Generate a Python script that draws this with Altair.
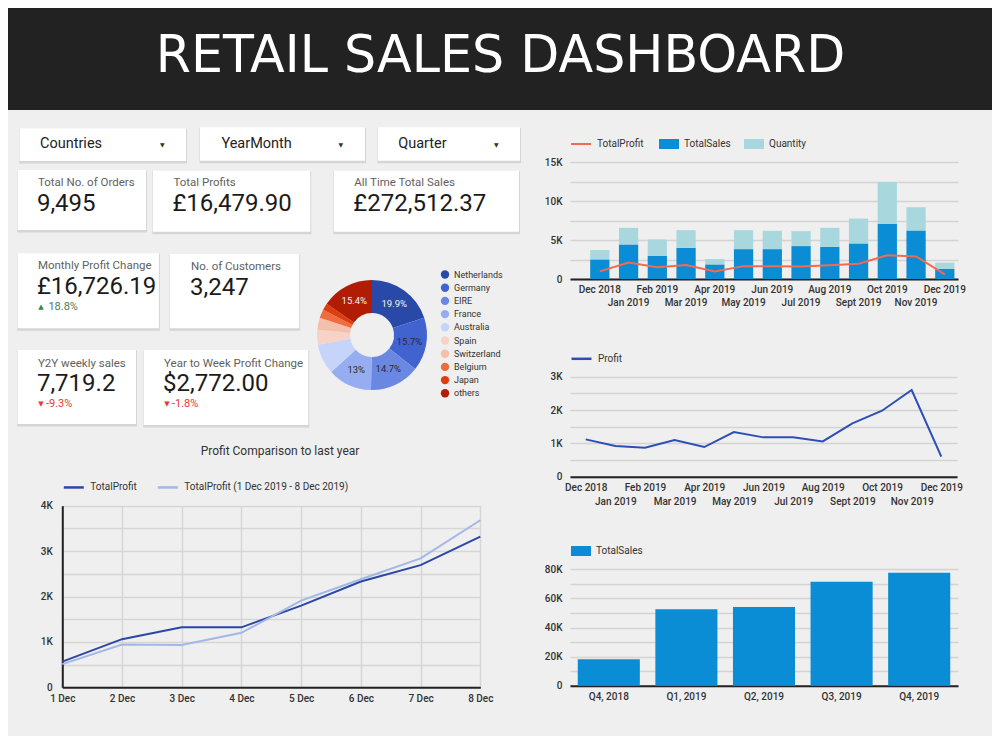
import json
import altair as alt
import pandas as pd

# ---------------- data ----------------
months = ["Dec 2018", "Jan 2019", "Feb 2019", "Mar 2019", "Apr 2019", "May 2019",
          "Jun 2019", "Jul 2019", "Aug 2019", "Sept 2019", "Oct 2019", "Nov 2019", "Dec 2019"]
monthly_sales = [2510, 4430, 2980, 4000, 1870, 3830, 3830, 4220, 4130, 4560, 7070, 6220, 1280]
monthly_quantity = [1200, 2130, 2090, 2260, 690, 2430, 2350, 1920, 2430, 3190, 5370, 2980, 810]
monthly_total_profit = [980, 2100, 1500, 1800, 950, 1650, 1650, 1600, 1750, 1950, 3050, 2900, 600]
monthly_profit = [1120, 920, 870, 1100, 890, 1340, 1180, 1180, 1060, 1600, 1980, 2600, 600]

quarters = ["Q4, 2018", "Q1, 2019", "Q2, 2019", "Q3, 2019", "Q4, 2019"]
quarter_sales = [18100, 52500, 54100, 71500, 77700]

days = ["1 Dec", "2 Dec", "3 Dec", "4 Dec", "5 Dec", "6 Dec", "7 Dec", "8 Dec"]
profit_this = [565, 1060, 1320, 1320, 1800, 2330, 2690, 3320]
profit_compare = [510, 940, 930, 1200, 1910, 2380, 2840, 3680]
series_names = ["TotalProfit", "TotalProfit (1 Dec 2019 - 8 Dec 2019)"]

countries = ["Netherlands", "Germany", "EIRE", "France", "Australia", "Spain",
             "Switzerland", "Belgium", "Japan", "others"]
country_share = [19.9, 15.7, 14.7, 13.0, 8.9, 4.3, 3.6, 2.5, 2.0, 15.4]

dashboard_title = "RETAIL SALES DASHBOARD"
filter_labels = ["Countries", "YearMonth", "Quarter"]
kpi_titles = ["Total No. of Orders", "Total Profits", "All Time Total Sales",
              "Monthly Profit Change", "No. of Customers", "Y2Y weekly sales",
              "Year to Week Profit Change"]
kpi_values = ["9,495", "£16,479.90", "£272,512.37", "£16,726.19", "3,247", "7,719.2", "$2,772.00"]
kpi_deltas = ["", "", "", "18.8%", "", "-9.3%", "-1.8%"]
kpi_up = [True, True, True, True, True, False, False]
line_title = "Profit Comparison to last year"

# ---------------- styling / layout ----------------
W, H = 984, 728
OFF = 8
FONT = "Roboto"
GRID = "#d3d3d3"
BG = "#efefef"


def px(v):
    return v - OFF


ONE = pd.DataFrame({"k": [0]})
layers = []


def box(x, y, w, h, color):
    return alt.Chart(ONE).mark_rect(color=color, strokeWidth=0).encode(
        x=alt.value(px(x)), x2=alt.value(px(x + w)),
        y=alt.value(px(y)), y2=alt.value(px(y + h)))


def card(x0, y0, x1, y1):
    return [box(x0 - 0.5, y0 + 0.5, x1 - x0 + 1.5, y1 - y0 + 2, "#d5d5d5"),
            box(x0, y0, x1 - x0, y1 - y0, "#ffffff")]


def label(x, y, s, size, color, align="left", font=FONT, weight="normal", baseline="middle"):
    return alt.Chart(ONE).mark_text(align=align, baseline=baseline, fontSize=size, color=color,
                                    font=font, fontWeight=weight).encode(
        x=alt.value(px(x)), y=alt.value(px(y)), text=alt.value(s))


def k_expr(step):
    return (f"datum.value % {step} == 0 ? (datum.value == 0 ? '0' : (datum.value / 1000) + 'K') : ''")


MONTH_EXPR = (f"indexof({json.dumps(months)}, datum.value) % 2 == 0 ? "
              "[datum.label, ''] : ['', datum.label]")

# header
layers.append(box(OFF, OFF, 992, 102, "#222222"))
layers.append(label(500.5, 71.7, dashboard_title, 50.7, "#ffffff", align="center",
                    font="DejaVu Sans", baseline="alphabetic"))

# filter controls
filter_geo = [(19.6, 128.3, 186, 161, 40, 162.3), (200, 127.3, 365, 160.7, 221.4, 340.8),
              (378, 127.3, 520, 160.7, 398.2, 496.3)]
for (x0, y0, x1, y1, tx, ax), name in zip(filter_geo, filter_labels):
    layers += card(x0, y0, x1, y1)
    layers.append(label(tx, 144.3, name, 14.5, "#222222"))
    layers.append(label(ax, 144.5, "▼", 6, "#333333", align="center", font="DejaVu Sans"))

# KPI cards: (x0, y0, x1, y1, title_x, title_y, value_y, delta_y)
card_geo = [(17.6, 170, 146, 230, 37.9, 182.7, 203.5, 0),
            (152.8, 170.7, 310.3, 231.7, 173.4, 183.3, 204.3, 0),
            (334, 170.7, 519, 231.7, 354.3, 183.3, 204.3, 0),
            (17.6, 253.3, 158.9, 328.3, 37.9, 266, 287, 307.3),
            (170, 254, 299.2, 328.3, 191, 266.8, 287.5, 0),
            (17.6, 350, 136, 424, 37.9, 363.5, 383.8, 404.3),
            (143.7, 350, 308.3, 425, 164, 363.5, 383.8, 404.3)]
for (x0, y0, x1, y1, tx, ty, vy, dy), title, val, delta, up in zip(
        card_geo, kpi_titles, kpi_values, kpi_deltas, kpi_up):
    layers += card(x0, y0, x1, y1)
    layers.append(label(tx, ty, title, 11.5, "#5f5f5f"))
    layers.append(label(tx - 1, vy, val, 24, "#1b1b1b"))
    if delta:
        col = "#2e8b3a" if up else "#e53935"
        txt_col = "#4d7a5c" if up else "#e53935"
        layers.append(label(tx + 3, dy, "▲" if up else "▼", 7, col, align="center", font="DejaVu Sans"))
        layers.append(label(tx + (10.5 if up else 8), dy, delta, 11, txt_col))

# ---------------- donut ----------------
donut_colors = ["#2a48a8", "#4063cf", "#6a88e2", "#96adf1", "#c6d4f9",
                "#f7d2c7", "#f5c0ab", "#ee6c40", "#df3d10", "#b01c04"]
donut_df = pd.DataFrame({"country": countries, "share": country_share})
ORDER_EXPR = f"indexof({json.dumps(countries)}, datum.country)"
CX, CY = 372, 335

arc = alt.Chart(donut_df).transform_calculate(slice_order=ORDER_EXPR).mark_arc(
    innerRadius=22, outerRadius=55).encode(
    theta=alt.Theta("share:Q", stack=True),
    order=alt.Order("slice_order:Q"),
    color=alt.Color("country:N", sort=countries,
                    scale=alt.Scale(domain=countries, range=donut_colors),
                    legend=alt.Legend(orient="none", legendX=px(440), legendY=px(269.5),
                                      title=None, symbolType="circle", symbolSize=70,
                                      labelFontSize=9, rowPadding=3.2, labelOffset=4,
                                      padding=0, labelColor="#333333")),
    x=alt.value(px(CX)), y=alt.value(px(CY)))

arc_text = alt.Chart(donut_df).transform_calculate(
    slice_order=ORDER_EXPR,
    pct="datum.share >= 13 ? datum.share + '%' : ''").mark_text(
    radius=38, fontSize=9.5, font=FONT).encode(
    theta=alt.Theta("share:Q", stack=True),
    order=alt.Order("slice_order:Q"),
    text="pct:N",
    color=alt.condition("datum.country == 'Netherlands' || datum.country == 'others'",
                        alt.value("#f3f3f3"), alt.value("#2b2b2b")),
    x=alt.value(px(CX)), y=alt.value(px(CY)))
layers += [arc, arc_text]

# ---------------- top right: monthly sales / quantity / profit ----------------
band_top = alt.Scale(type="band", domain=months, range=[px(570), px(958)],
                     paddingInner=0.33, paddingOuter=0.413, align=0.85)
y_top = alt.Scale(domain=[0, 15000], range=[px(279), px(162)], nice=False, zero=True)

top_df = pd.DataFrame({"month": months * 2,
                       "measure": ["TotalSales"] * len(months) + ["Quantity"] * len(months),
                       "value": monthly_sales + monthly_quantity})
bars_top = alt.Chart(top_df).transform_calculate(
    stack_order="datum.measure == 'TotalSales' ? 0 : 1").mark_bar().encode(
    x=alt.X("month:N", sort=months, scale=band_top,
            axis=alt.Axis(orient="bottom", offset=px(279) - H, title=None, labelAngle=0,
                          labelExpr=MONTH_EXPR, labelOverlap=False, labelLineHeight=13.3,
                          labelPadding=5, ticks=False, tickSize=0, domain=True,
                          domainColor="#222222", domainWidth=2, grid=False)),
    y=alt.Y("value:Q", stack="zero", scale=y_top,
            axis=alt.Axis(orient="left", offset=-px(570), title=None,
                          values=list(range(0, 15001, 2500)), labelExpr=k_expr(5000),
                          ticks=False, tickSize=0, domain=False, grid=True, labelPadding=8)),
    color=alt.Color("measure:N", sort=["TotalSales", "Quantity"],
                    scale=alt.Scale(domain=["TotalSales", "Quantity"], range=["#0a8dd5", "#a8d8de"]),
                    legend=alt.Legend(orient="none", legendX=px(658), legendY=px(133),
                                      direction="horizontal", title=None,
                                      symbolType="M-1,-0.5H1V0.5H-1Z", symbolSize=400,
                                      labelOffset=4, columnPadding=12, padding=0)),
    order=alt.Order("stack_order:Q"))

top_line_df = pd.DataFrame({"month": months, "measure": "TotalProfit", "value": monthly_total_profit})
line_top = alt.Chart(top_line_df).mark_line(strokeWidth=2).encode(
    x=alt.X("month:N", sort=months, scale=band_top, axis=None, bandPosition=0.5),
    y=alt.Y("value:Q", scale=y_top, axis=None),
    stroke=alt.Stroke("measure:N", scale=alt.Scale(domain=["TotalProfit"], range=["#f26b4f"]),
                      legend=alt.Legend(orient="none", legendX=px(570), legendY=px(133),
                                        title=None, symbolType="stroke", symbolSize=400,
                                        symbolStrokeWidth=2, labelOffset=5, padding=0)))
layers += [bars_top, line_top]

# ---------------- middle right: profit line ----------------
pt_x = alt.Scale(type="point", domain=months, range=[px(570), px(957)], padding=0.53)
pt_y = alt.Scale(domain=[0, 3000], range=[px(476.7), px(376.7)], nice=False)
profit_df = pd.DataFrame({"month": months, "measure": "Profit", "value": monthly_profit})
line_profit = alt.Chart(profit_df).mark_line(strokeWidth=2).encode(
    x=alt.X("month:N", sort=months, scale=pt_x,
            axis=alt.Axis(orient="bottom", offset=px(476.7) - H, title=None, labelAngle=0,
                          labelExpr=MONTH_EXPR, labelOverlap=False, labelLineHeight=13.7,
                          labelPadding=6, ticks=False, tickSize=0, domain=True,
                          domainColor="#222222", domainWidth=2, grid=False)),
    y=alt.Y("value:Q", scale=pt_y,
            axis=alt.Axis(orient="left", offset=-px(570), title=None,
                          values=list(range(0, 3001, 500)), labelExpr=k_expr(1000),
                          ticks=False, tickSize=0, domain=False, grid=True, labelPadding=8)),
    stroke=alt.Stroke("measure:N", scale=alt.Scale(domain=["Profit"], range=["#2c4fb5"]),
                      legend=alt.Legend(orient="none", legendX=px(570), legendY=px(347.3),
                                        title=None, symbolType="stroke", symbolSize=400,
                                        symbolStrokeWidth=2.5, labelOffset=5, padding=0)))
layers.append(line_profit)

# ---------------- bottom right: quarterly sales ----------------
q_x = alt.Scale(type="band", domain=quarters, range=[px(570), px(958)],
                paddingInner=0.2, paddingOuter=0.1)
q_y = alt.Scale(domain=[0, 80000], range=[px(685.7), px(569.3)], nice=False)
q_df = pd.DataFrame({"quarter": quarters, "measure": "TotalSales", "value": quarter_sales})
bars_q = alt.Chart(q_df).mark_bar().encode(
    x=alt.X("quarter:N", sort=quarters, scale=q_x,
            axis=alt.Axis(orient="bottom", offset=px(685.7) - H, title=None, labelAngle=0,
                          labelPadding=5.5, ticks=False, tickSize=0, domain=True,
                          domainColor="#222222", domainWidth=2, grid=False)),
    y=alt.Y("value:Q", scale=q_y,
            axis=alt.Axis(orient="left", offset=-px(570), title=None,
                          values=list(range(0, 80001, 10000)), labelExpr=k_expr(20000),
                          ticks=False, tickSize=0, domain=False, grid=True, labelPadding=8)),
    color=alt.Color("measure:N", scale=alt.Scale(domain=["TotalSales"], range=["#0a8dd5"]),
                    legend=alt.Legend(orient="none", legendX=px(570), legendY=px(540),
                                      title=None, symbolType="M-1,-0.5H1V0.5H-1Z",
                                      symbolSize=400, labelOffset=4, padding=0)))
layers.append(bars_q)

# ---------------- bottom left: profit comparison ----------------
d_x = alt.Scale(type="point", domain=days, range=[px(62.3), px(480.3)], padding=0)
d_y = alt.Scale(domain=[0, 4000], range=[px(687.3), px(505.7)], nice=False)

grid_df = pd.DataFrame({"day": days, "value": profit_this})
vgrid = alt.Chart(grid_df).mark_point(opacity=0).encode(
    x=alt.X("day:N", sort=days, scale=d_x,
            axis=alt.Axis(orient="top", grid=True, labels=False, ticks=False, domain=False,
                          title=None, gridColor="#d6d6d6", gridWidth=1.5)),
    y=alt.Y("value:Q", scale=d_y, axis=None))

cmp_df = pd.DataFrame({"day": days * 2,
                       "series": [series_names[0]] * len(days) + [series_names[1]] * len(days),
                       "value": profit_this + profit_compare})
cmp_lines = alt.Chart(cmp_df).mark_line(strokeWidth=2).encode(
    x=alt.X("day:N", sort=days, scale=d_x,
            axis=alt.Axis(orient="bottom", offset=px(687.3) - H, title=None, labelAngle=0,
                          labelPadding=6, ticks=False, tickSize=0, domain=True,
                          domainColor="#222222", domainWidth=2, grid=False)),
    y=alt.Y("value:Q", scale=d_y,
            axis=alt.Axis(orient="left", offset=-px(62.3), title=None,
                          values=list(range(0, 4001, 500)), labelExpr=k_expr(1000),
                          ticks=False, tickSize=0, domain=True, domainColor="#222222",
                          domainWidth=2, grid=True, gridColor="#d6d6d6", gridWidth=1.5,
                          labelPadding=10)),
    stroke=alt.Stroke("series:N", sort=series_names,
                      scale=alt.Scale(domain=series_names, range=["#2a47a6", "#a4b7e6"]),
                      legend=alt.Legend(orient="none", legendX=px(62.3), legendY=px(475.7),
                                        direction="horizontal", title=None,
                                        symbolType="stroke", symbolSize=400,
                                        symbolStrokeWidth=2.5, labelOffset=5,
                                        columnPadding=15, padding=0, labelLimit=400)))
layers += [vgrid, cmp_lines]
layers.append(label(280, 450.7, line_title, 12, "#333333", align="center"))

chart = alt.layer(*layers).properties(
    width=W, height=H, padding=0,
    autosize=alt.AutoSizeParams(type="none"),
).resolve_scale(
    x="independent", y="independent", color="independent", stroke="independent"
).resolve_axis(
    x="independent", y="independent"
).resolve_legend(
    color="independent", stroke="independent"
).configure(
    background=BG, font=FONT
).configure_view(
    stroke=None
).configure_axis(
    labelFont=FONT, labelColor="#333333", labelFontSize=10, labelFontWeight=500,
    gridColor=GRID, gridWidth=1.3
).configure_legend(
    labelFont=FONT, labelColor="#333333", labelFontSize=10, labelLimit=400
)

chart.save("out.html", embed_options={"renderer": "svg", "actions": False})
